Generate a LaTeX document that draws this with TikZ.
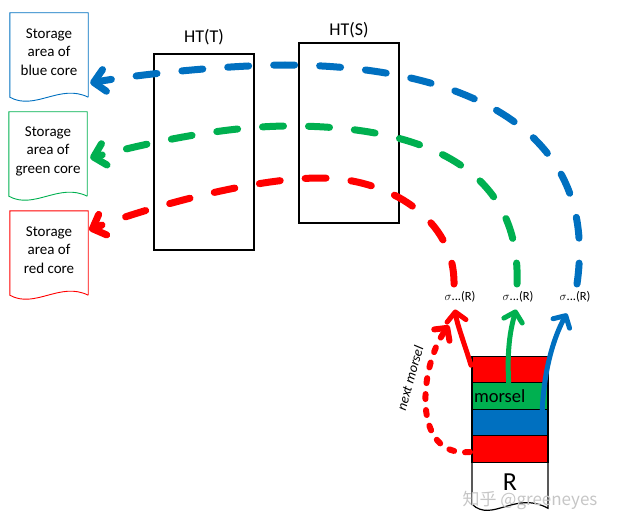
\documentclass[tikz,border=0pt]{standalone}
\usepackage{fontspec}
\setmainfont{Carlito}
\newfontfamily\cjkfont{Noto Sans CJK SC}
\usepackage{tikz}
\usetikzlibrary{positioning,calc,arrows.meta}
\definecolor{corered}{RGB}{255,0,0}
\definecolor{coregreen}{RGB}{0,176,80}
\definecolor{coreblue}{RGB}{0,112,192}

\tikzset{
  store/.style={align=center, minimum width=78pt, minimum height=78pt, inner sep=0pt,
    font=\fontsize{15}{18.5}\selectfont},
  hashtab/.style={draw, line width=1.2pt, minimum width=100pt, inner sep=0pt},
  htlabel/.style={font=\fontsize{18}{20}\selectfont},
  strip/.style={draw, line width=1.2pt, text width=72pt, inner xsep=2pt, inner ysep=0pt,
    outer sep=0pt, minimum height=26.5pt, align=left, font=\fontsize{18.5}{20}\selectfont},
  sel/.style={font=\fontsize{12.5}{15}\selectfont},
  flow/.style={line width=7pt, line cap=round, dash pattern=on 21pt off 25pt,
    -{Straight Barb[length=11pt,width=22pt,round]}},
  scan/.style={line width=5pt, line cap=round, -{Straight Barb[length=9pt,width=19pt,round]}},
  hop/.style={line width=6pt, line cap=round, dash pattern=on 5pt off 11pt,
    -{Straight Barb[length=9pt,width=19pt,round]}},
}

\begin{document}
\begin{tikzpicture}[x=1pt, y=-1pt]
    \useasboundingbox (0,0) rectangle (619,527);

    % Storage areas of the cores
    \node[store] (storeblue) at (49,52) {Storage\\area of\\blue core};
    \node[store] (storegreen) at (48,151) {Storage\\area of\\green core};
    \node[store] (storered) at (49,250) {Storage\\area of\\red core};
    \foreach \c/\n in {coreblue/storeblue, coregreen/storegreen, corered/storered}
        \draw[\c, line width=0.9pt] ($(\n.south east)+(0,6)$) -- (\n.north east) -- (\n.north west)
            -- ($(\n.south west)+(0,6)$) .. controls +(25,14) and +(-28,-14) .. ($(\n.south east)+(0,6)$);

    % Hash tables
    \node[hashtab, minimum height=196pt] (htT) at (204,152) {};
    \node[htlabel, above=4.5pt of htT] (htTlabel) {HT(T)};
    \node[hashtab, minimum height=180pt] (htS) at (349,133) {};
    \node[htlabel, above=0.5pt of htS] (htSlabel) {HT(S)};

    % Relation R split into morsels
    \node[strip, fill=corered] (m1) at (510,369.5) {};
    \node[strip, fill=coregreen, below=0pt of m1] (m2) {morsel};
    \node[strip, fill=coreblue, below=0pt of m2] (m3) {};
    \node[strip, fill=corered, below=0pt of m3] (m4) {};
    \node[strip, draw=none, minimum height=40pt, align=center, below=0pt of m4,
        font=\fontsize{26}{26}\selectfont] (rbase) {R};
    \draw[line width=1.2pt] (m4.south west) -- ($(rbase.south west)+(0,2)$)
        .. controls +(20,19) and +(-33,-18) .. ($(rbase.south east)+(0,6)$) -- (m4.south east);

    % Selections
    \node[sel] (selred) at (460,297) {$\sigma$...(R)};
    \node[sel] (selgreen) at (518,297) {$\sigma$...(R)};
    \node[sel] (selblue) at (575,297) {$\sigma$...(R)};

    % Results to the storage areas
    \coordinate (bluetop) at (285,65);
    \coordinate (greentop) at (290,126);
    \coordinate (redtop) at (320,178);
    \draw[flow, coreblue] ($(selblue.north)+(2,-4)$) .. controls +(25,-174) and +(145,0) .. (bluetop)
        .. controls +(-55,0) and +(50,-9) .. ($(storeblue.east)+(2,31)$);
    \draw[flow, coregreen] ($(selgreen.north)+(-1,-4)$) .. controls +(5,-134) and +(100,0) .. (greentop)
        .. controls +(-70,0) and +(50,-13) .. ($(storegreen.east)+(3,7)$);
    \draw[flow, corered] ($(selred.north)+(-6,-4)$) .. controls +(1,-64) and +(70,0) .. (redtop)
        .. controls +(-70,0) and +(51,-20) .. ($(storered.east)+(1,-20)$);

    % Morsels to the selections
    \draw[scan, corered] ($(m1.north west)+(-1,9)$) .. controls +(-6,-20) and +(2,15) .. ($(selred.south)+(-5,3.5)$);
    \draw[scan, coregreen] ($(m2.north)+(-1,5)$) .. controls +(-3,-43) and +(-4,15) .. ($(selgreen.south)+(-2,3.5)$);
    \draw[scan, coreblue] ($(m3.north east)+(-6,8)$) .. controls +(1,-48) and +(-12,21) .. ($(selblue.south)+(-8,7.5)$);
    \draw[hop, corered] ($(m4.west)+(-2,3)$) .. controls +(-60,6) and +(-29,39) .. ($(selred.south)+(-11,19.5)$);
    \node[rotate=74, font=\fontsize{14}{16}\selectfont\itshape] (nextlbl) at (410,378) {next morsel};

    % Watermark
    \node[text=gray!45, font=\cjkfont\fontsize{17}{19}\selectfont] (mark) at (530,500) {知乎 @greeneyes};
\end{tikzpicture}
\end{document}
